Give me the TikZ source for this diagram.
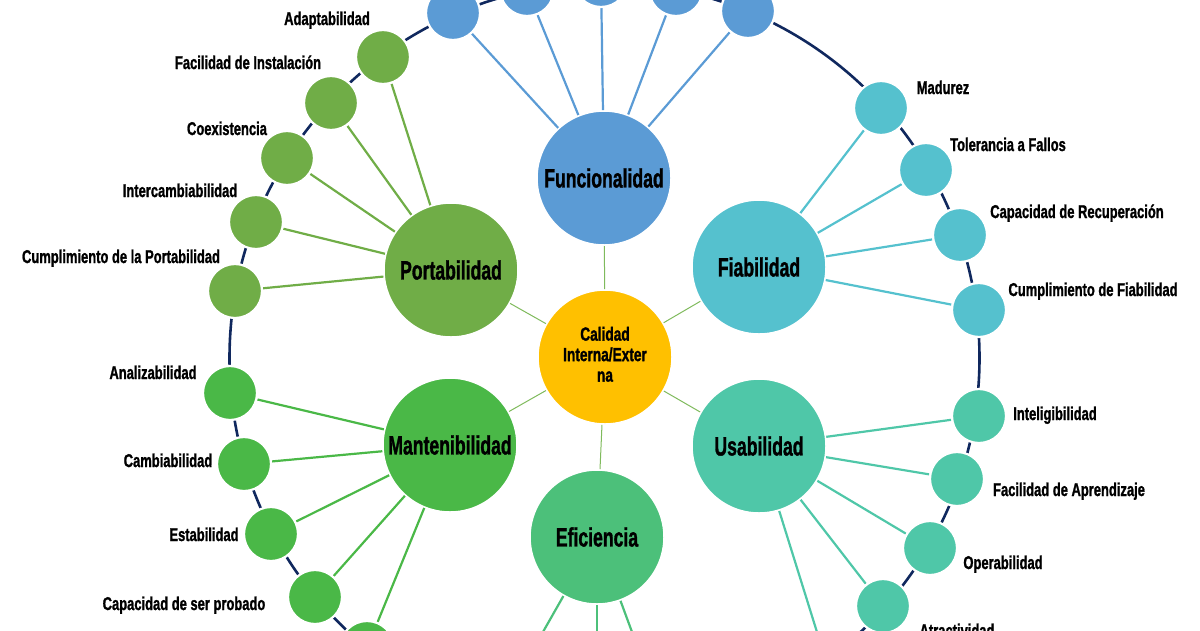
\documentclass[tikz,border=0pt]{standalone}
\usepackage{fontspec}
\setmainfont{Liberation Sans}[BoldFeatures={FakeBold=1.6}]
\usepackage{graphicx}
\pgfdeclarelayer{bg}
\pgfsetlayers{bg,main}
\definecolor{cFun}{HTML}{5B9BD5}
\definecolor{cFia}{HTML}{55C1CE}
\definecolor{cUsa}{HTML}{4FC7A8}
\definecolor{cEfi}{HTML}{4CC07A}
\definecolor{cMan}{HTML}{4AB847}
\definecolor{cPor}{HTML}{70AD47}
\definecolor{cCen}{HTML}{FFC000}
\definecolor{ringcol}{HTML}{10285E}
\definecolor{hubcol}{HTML}{7FBA5C}
\newcommand\smalllab[1]{\scalebox{0.70}[1]{\fontsize{18.5}{20}\selectfont\bfseries #1}}
\newcommand\biglab[1]{\scalebox{0.665}[1]{\fontsize{26.5}{28}\selectfont\bfseries #1}}
\tikzset{
  sub/.style={circle, minimum size=54pt, inner sep=0pt, draw=white, line width=2.2pt, fill=#1},
  cat/.style={circle, minimum size=134pt, inner sep=0pt, draw=white, line width=1.5pt, fill=#1},
  lbl/.style={anchor=base, inner sep=0pt, text=black},
  spoke/.style={line width=2.2pt, draw=#1},
  hubline/.style={line width=1pt, draw=hubcol},
  ringline/.style={line width=2.6pt, draw=ringcol}
}
\begin{document}
\begin{tikzpicture}[x=1pt,y=-1pt]
\useasboundingbox (0,0) rectangle (1200,630);
\coordinate (ringc) at (604.5,358);

% centre and categories
\node[cat=cCen] (cen) at (605,357) {\scalebox{0.72}[1]{\fontsize{19}{20.5}\selectfont\bfseries\begin{tabular}{@{}c@{}}Calidad\\Interna/Exter\\na\end{tabular}}};
\node[cat=cFun] (fun) at (604,178) {\biglab{Funcionalidad}};
\node[cat=cFia] (fia) at (759,267) {\biglab{Fiabilidad}};
\node[cat=cUsa] (usa) at (759,446) {\biglab{Usabilidad}};
\node[cat=cEfi] (efi) at (597,537) {\biglab{Eficiencia}};
\node[cat=cMan] (man) at (450,445) {\biglab{Mantenibilidad}};
\node[cat=cPor] (por) at (451,270) {\biglab{Portabilidad}};

% Funcionalidad sub-circles
\node[sub=cFun] (fu1) at (453,13) {};
\node[sub=cFun] (fu2) at (527,-11) {};
\node[sub=cFun] (fu3) at (601,-20) {};
\node[sub=cFun] (fu4) at (676,-11) {};
\node[sub=cFun] (fu5) at (748,11) {};

% Portabilidad
\node[sub=cPor] (p1) at (383,57) {};
\node[sub=cPor] (p2) at (331,103) {};
\node[sub=cPor] (p3) at (287,158) {};
\node[sub=cPor] (p4) at (256,222) {};
\node[sub=cPor] (p5) at (235,291) {};

% Mantenibilidad
\node[sub=cMan] (m1) at (230,393) {};
\node[sub=cMan] (m2) at (244,464) {};
\node[sub=cMan] (m3) at (271,534) {};
\node[sub=cMan] (m4) at (315,597) {};
\node[sub=cMan] (m5) at (367,648) {};

% Fiabilidad
\node[sub=cFia] (f1) at (881,108) {};
\node[sub=cFia] (f2) at (926,170) {};
\node[sub=cFia] (f3) at (960,235) {};
\node[sub=cFia] (f4) at (979,310) {};

% Usabilidad
\node[sub=cUsa] (u1) at (979,416) {};
\node[sub=cUsa] (u2) at (957,479) {};
\node[sub=cUsa] (u3) at (930,548) {};
\node[sub=cUsa] (u4) at (883,606) {};
\node[sub=cUsa] (u5) at (826,661) {};

% Eficiencia
\node[sub=cEfi] (e1) at (494,718) {};
\node[sub=cEfi] (e2) at (597,733) {};
\node[sub=cEfi] (e3) at (667,727) {};

% labels
\node[lbl] (lp1) at (327,25) {\smalllab{Adaptabilidad}};
\node[lbl] (lp2) at (248,69) {\smalllab{Facilidad de Instalación}};
\node[lbl] (lp3) at (227,135) {\smalllab{Coexistencia}};
\node[lbl] (lp4) at (180,197) {\smalllab{Intercambiabilidad}};
\node[lbl] (lp5) at (121,263) {\smalllab{Cumplimiento de la Portabilidad}};
\node[lbl] (lm1) at (153,379) {\smalllab{Analizabilidad}};
\node[lbl] (lm2) at (168,467) {\smalllab{Cambiabilidad}};
\node[lbl] (lm3) at (204,541) {\smalllab{Estabilidad}};
\node[lbl] (lm4) at (184,610) {\smalllab{Capacidad de ser probado}};
\node[lbl] (lf1) at (943,94) {\smalllab{Madurez}};
\node[lbl] (lf2) at (1008,151) {\smalllab{Tolerancia a Fallos}};
\node[lbl] (lf3) at (1077,218) {\smalllab{Capacidad de Recuperación}};
\node[lbl] (lf4) at (1093,296) {\smalllab{Cumplimiento de Fiabilidad}};
\node[lbl] (lu1) at (1055,420) {\smalllab{Inteligibilidad}};
\node[lbl] (lu2) at (1069,496) {\smalllab{Facilidad de Aprendizaje}};
\node[lbl] (lu3) at (1003,569) {\smalllab{Operabilidad}};
\node[lbl] (lu4) at (957,637) {\smalllab{Atractividad}};

\begin{pgfonlayer}{bg}
  \draw[ringline] (ringc) circle[radius=375];
  \foreach \c in {fun,fia,usa,efi,man,por} \draw[hubline] (cen) -- (\c);
  \foreach \s in {fu1,fu2,fu3,fu4,fu5} \draw[spoke=cFun] (fun) -- (\s);
  \foreach \s in {p1,p2,p3,p4,p5} \draw[spoke=cPor] (por) -- (\s);
  \foreach \s in {m1,m2,m3,m4,m5} \draw[spoke=cMan] (man) -- (\s);
  \foreach \s in {f1,f2,f3,f4} \draw[spoke=cFia] (fia) -- (\s);
  \foreach \s in {u1,u2,u3,u4,u5} \draw[spoke=cUsa] (usa) -- (\s);
  \foreach \s in {e1,e2,e3} \draw[spoke=cEfi] (efi) -- (\s);
\end{pgfonlayer}
\end{tikzpicture}
\end{document}
